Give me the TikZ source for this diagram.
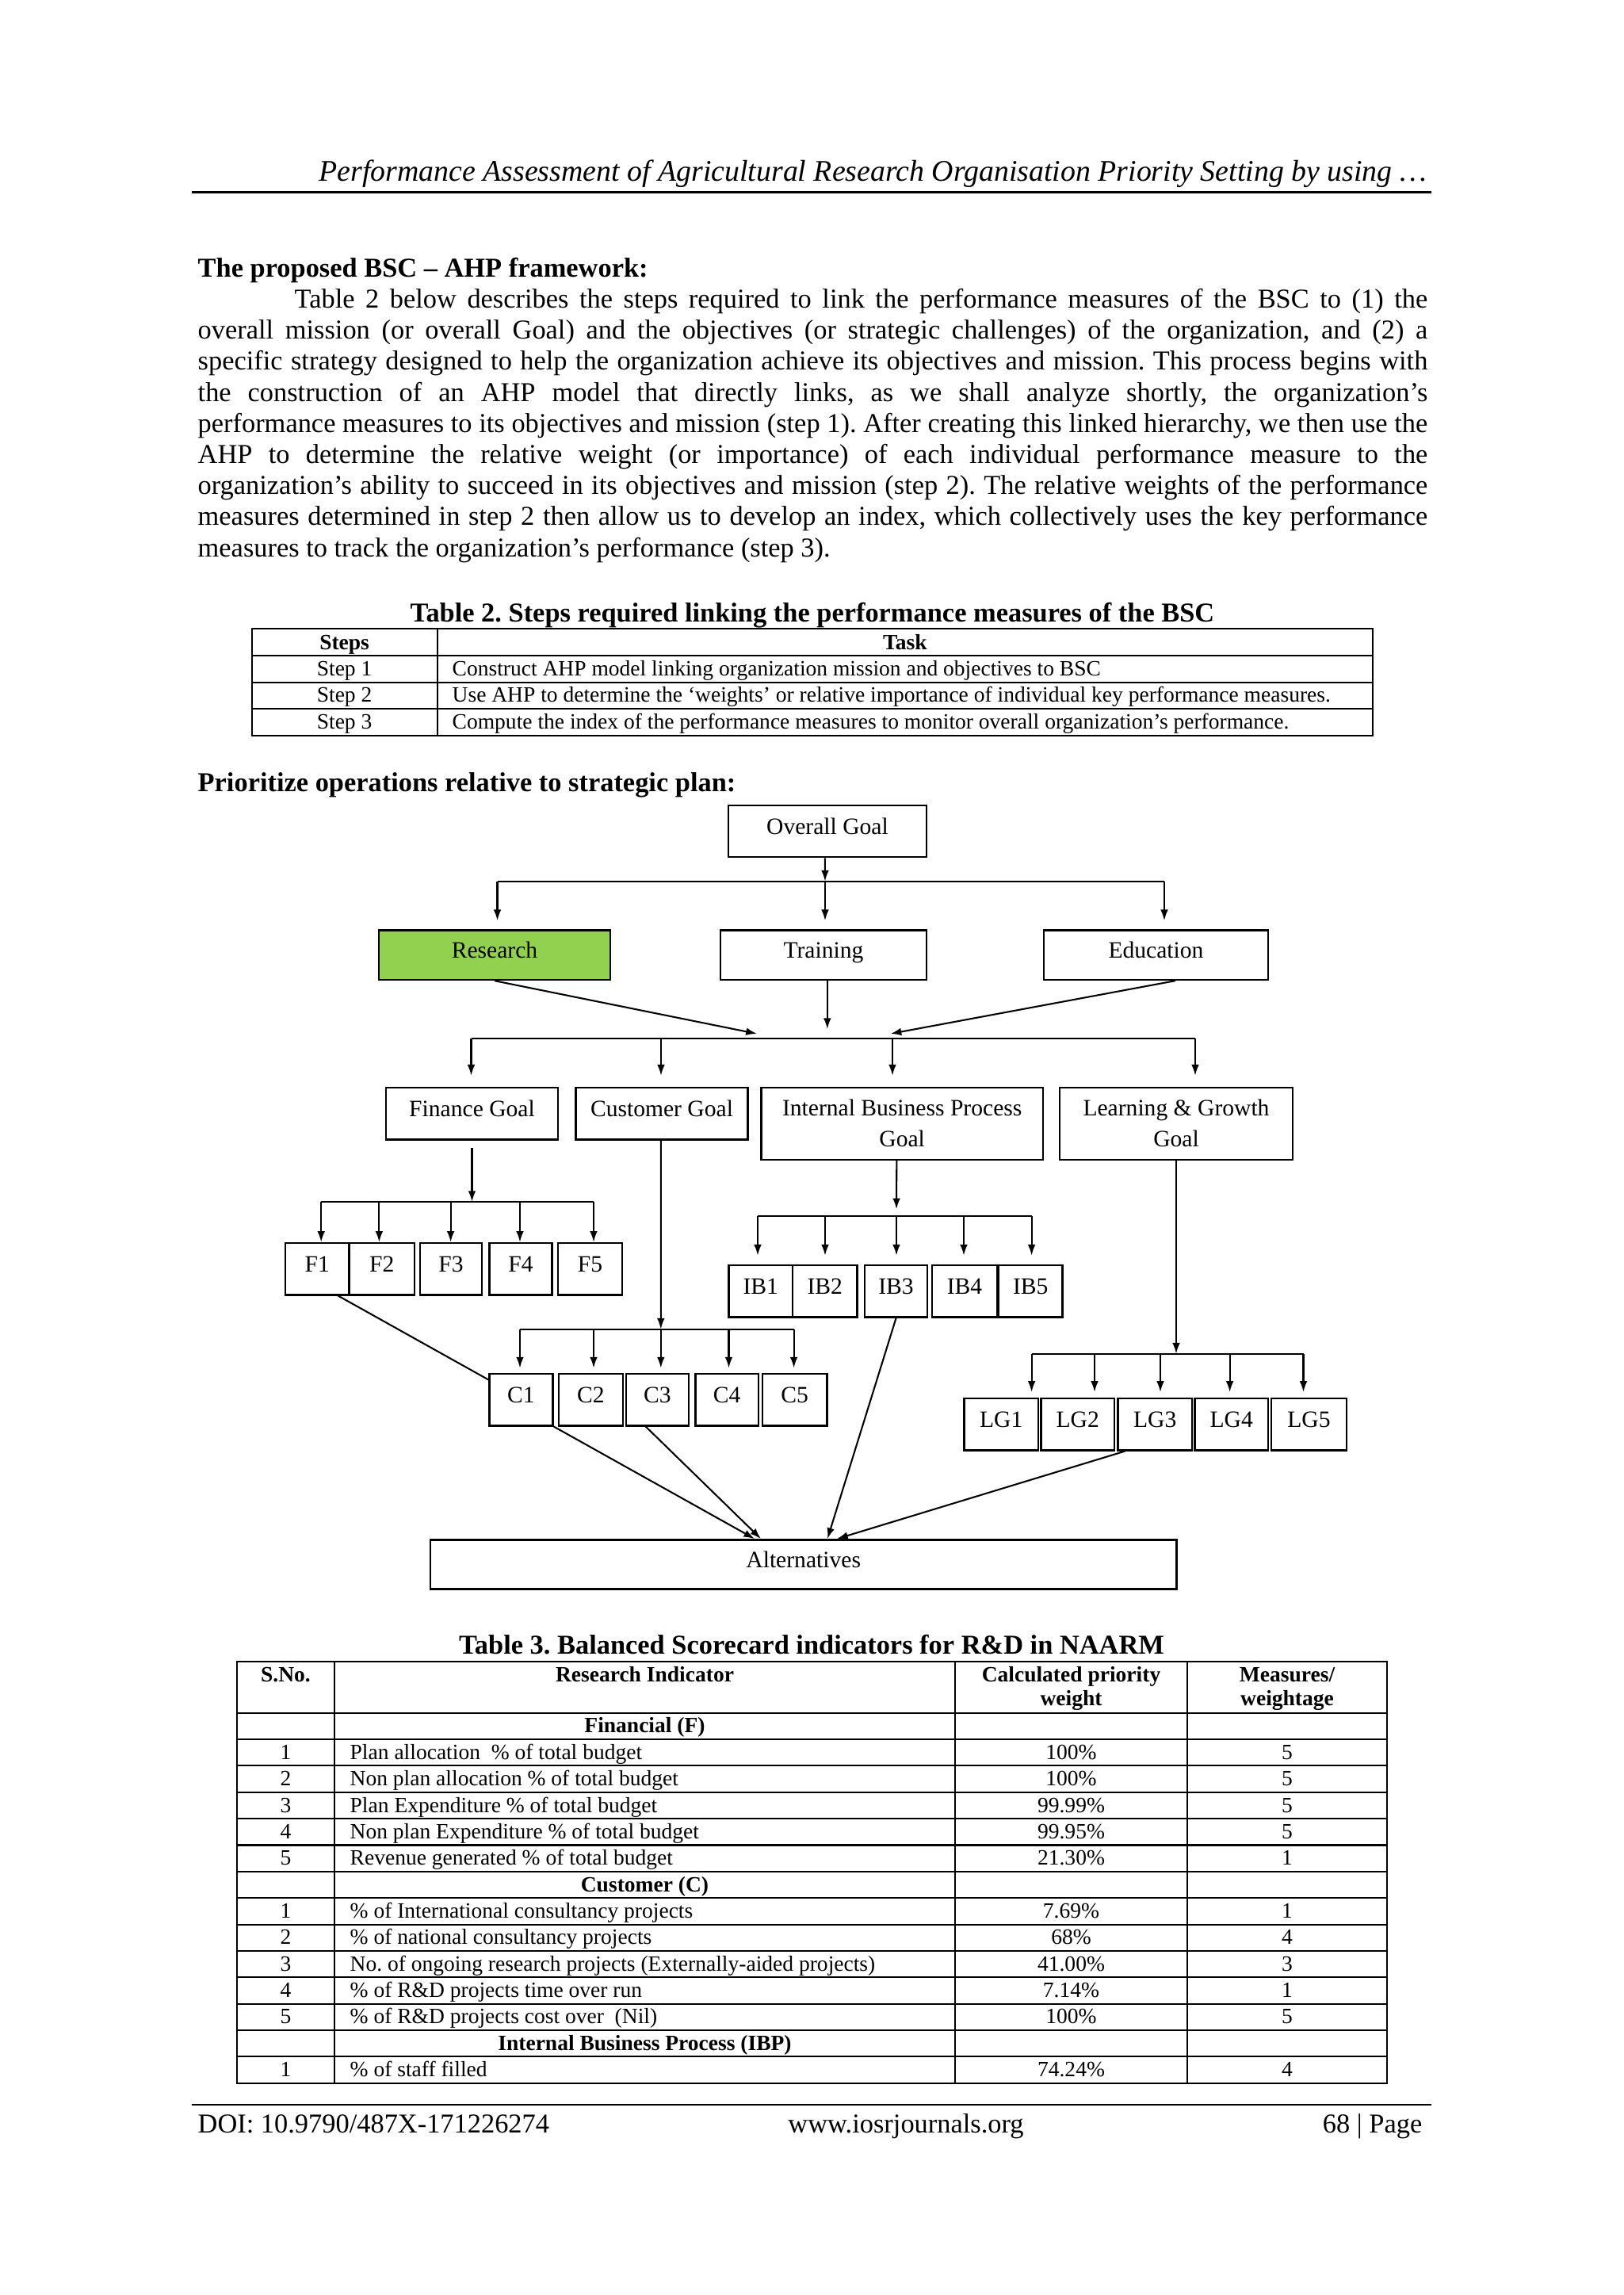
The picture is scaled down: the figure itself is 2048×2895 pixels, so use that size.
\documentclass[tikz,border=0pt]{standalone}
\usepackage{fontspec}
\setmainfont{Liberation Serif}
\usetikzlibrary{arrows.meta}
\definecolor{resgreen}{RGB}{146,208,80}
\newcommand\bodyfont{\fontsize{10pt}{11.5pt}\selectfont}
\newcommand\tabfont{\fontsize{8pt}{9pt}\selectfont}
\newcommand\dgfont{\fontsize{8.6pt}{11.3pt}\selectfont}
\newcommand\hdfont{\fontsize{11pt}{13pt}\selectfont\itshape}
\newcommand\jl[1]{\makebox[451pt][s]{#1}}
\frenchspacing
\begin{document}
\frenchspacing
\begin{tikzpicture}[x=0.29066pt, y=-0.29066pt,
  wh/.style 2 args={minimum width=#1*0.29066pt, minimum height=#2*0.29066pt},
  box/.style={draw, line width=0.7pt, inner sep=0pt, font=\dgfont, text height=5.8pt, text depth=3.4pt},
  box2/.style={draw, line width=0.7pt, inner sep=0pt, font=\dgfont, align=center},
  ln/.style={line width=0.6pt},
  arr/.style={ln, -{Latex[length=4pt,width=2.8pt]}},
  tl/.style={line width=0.6pt},
  bt/.style={font=\bodyfont, inner sep=0pt, anchor=base west},
  tx/.style={font=\tabfont, inner sep=0pt},
  txb/.style={font=\tabfont\bfseries, inner sep=0pt}]
\useasboundingbox (0,0) rectangle (2048,2895);
\fill[white] (0,0) rectangle (2048,2895);

% running header
\node[font=\hdfont, inner sep=0pt, anchor=base east] (hdr) at (1800.5,228) {Performance Assessment of Agricultural Research Organisation Priority Setting by using …};
\draw[line width=1pt] (242,242.7) -- (1806,242.7);

% section text
\node[bt, font=\bodyfont\bfseries] (h1) at (249,349) {The proposed BSC – AHP framework:};
\node[bt] (p1) at (371,388.5) {\makebox[415.5pt][s]{Table 2 below describes the steps required to link the performance measures of the BSC to (1) the}};
\node[bt] (p2) at (249,427.7) {\jl{overall mission (or overall Goal) and the objectives (or strategic challenges) of the organization, and (2) a}};
\node[bt] (p3) at (249,466.9) {\jl{specific strategy designed to help the organization achieve its objectives and mission. This process begins with}};
\node[bt] (p4) at (249,506.1) {\jl{the construction of an AHP model that directly links, as we shall analyze shortly, the organization’s}};
\node[bt] (p5) at (249,545.3) {\jl{performance measures to its objectives and mission (step 1). After creating this linked hierarchy, we then use the}};
\node[bt] (p6) at (249,584.5) {\jl{AHP to determine the relative weight (or importance) of each individual performance measure to the}};
\node[bt] (p7) at (249,623.7) {\jl{organization’s ability to succeed in its objectives and mission (step 2). The relative weights of the performance}};
\node[bt] (p8) at (249,662.9) {\jl{measures determined in step 2 then allow us to develop an index, which collectively uses the key performance}};
\node[bt] (p9) at (249,702.1) {measures to track the organization’s performance (step 3).};

% Table 2
\node[font=\bodyfont\bfseries, inner sep=0pt, anchor=base] (cap2) at (1025,784) {Table 2. Steps required linking the performance measures of the BSC};
\draw[tl] (317.6,793) rectangle (1732,928);
\foreach \y in {827,861,894} \draw[tl] (317.6,\y) -- (1732,\y);
\draw[tl] (551.6,793) -- (551.6,928);
\node[txb, anchor=base] (t2h1) at (434.6,819) {Steps};
\node[txb, anchor=base] (t2h2) at (1141.8,819) {Task};
\foreach \i/\y/\t in {1/852/{Construct AHP model linking organization mission and objectives to BSC},
  2/885.5/{Use AHP to determine the ‘weights’ or relative importance of individual key performance measures.},
  3/919/{Compute the index of the performance measures to monitor overall organization’s performance.}}{
  \node[tx, anchor=base] (t2s\i) at (434.6,\y) {Step \i};
  \node[tx, anchor=base west] (t2t\i) at (570,\y) {\t};
}

\node[bt, font=\bodyfont\bfseries] (h2) at (249,998) {Prioritize operations relative to strategic plan:};

% ---------------- diagram ----------------
\node[box, wh={250}{65.3}] (og) at (1044,1048.4) {Overall Goal};
\node[box, fill=resgreen, wh={292}{62.5}] (res) at (624,1204.7) {Research};
\node[box, wh={260}{62.5}] (tr) at (1039,1204.7) {Training};
\node[box, wh={283}{62.5}] (ed) at (1458.5,1204.7) {Education};

\coordinate (t1) at (627.5,1111.7);
\coordinate (t2) at (1041,1111.7);
\coordinate (t3) at (1469,1111.7);
\draw[ln] (t1) -- (t3);
\draw[arr] ([xshift=-0.9pt]og.south) -- (t2);
\draw[arr, shorten >=3.2pt] (t1) -- (t1 |- res.north);
\draw[arr, shorten >=3.2pt] (t2) -- (t2 |- tr.north);
\draw[arr, shorten >=3.2pt] (t3) -- (t3 |- ed.north);

\coordinate (k1) at (955,1304);
\coordinate (k3) at (1123.5,1304);
\draw[arr] (res.south) -- (k1);
\draw[arr, shorten >=1.7pt] ([xshift=1.4pt]tr.south) -- ([xshift=1.4pt]tr.south |- k1);
\draw[arr] ([xshift=7.1pt]ed.south) -- (k3);

\coordinate (m1) at (594.5,1310);
\coordinate (m2) at (834,1310);
\coordinate (m3) at (1126,1310);
\coordinate (m4) at (1508,1310);
\draw[ln] (m1) -- (m4);

\node[box, wh={216.5}{65.6}] (fg) at (595.5,1404.5) {Finance Goal};
\node[box, wh={217}{65.6}] (cg) at (835,1404.5) {Customer Goal};
\node[box2, wh={355.5}{91}] (ig) at (1138.2,1417.2) {Internal Business Process\\Goal};
\node[box2, wh={294}{91}] (lg) at (1484,1417.2) {Learning \& Growth\\Goal};

\draw[arr, shorten >=4pt] (m1) -- (m1 |- fg.north);
\draw[arr, shorten >=4pt] (m2) -- (m2 |- cg.north);
\draw[arr, shorten >=4pt] (m3) -- (m3 |- ig.north);
\draw[arr, shorten >=4pt] (m4) -- (m4 |- lg.north);

% F level
\foreach \i/\x/\w in {1/400.2/80.5, 2/481.7/82.5, 3/569/78, 4/657/79, 5/744.5/81}
  \node[box, wh={\w}{65.3}] (F\i) at (\x,1600.7) {F\i};
\foreach \i/\x in {1/405.2, 2/478.4, 3/568.6, 4/656, 5/749}
  \coordinate (f\i) at (\x,1516);
\draw[ln] (f1) -- (f5);
\draw[arr, shorten <=2.7pt] (fg.south) -- (fg.south |- f1);
\foreach \i in {1,...,5} \draw[arr] (f\i) -- (f\i |- F\i.north);

% C level
\foreach \i/\x/\w in {1/657.5/80, 2/745.5/81, 3/829.5/79, 4/917.2/79.5, 5/1002.7/81.5}
  \node[box, wh={\w}{65.6}] (C\i) at (\x,1765.5) {C\i};
\foreach \i/\x in {1/656, 2/749, 3/833.8, 4/919.5, 5/1001.6}
  \coordinate (c\i) at (\x,1676.7);
\draw[ln] (c1) -- (c5);
\draw[arr] ([xshift=-0.35pt]cg.south) -- (c3);
\foreach \i in {1,...,5} \draw[arr, shorten >=1.7pt] (c\i) -- (c\i |- C\i.north);

% IB level
\foreach \i/\x/\w in {1/959.8/80.4, 2/1040.7/81.5, 3/1130.5/79, 4/1217/82, 5/1300.2/80.5}
  \node[box, wh={\w}{65.7}] (IB\i) at (\x,1628.8) {IB\i};
\foreach \i/\x in {1/956, 2/1041, 3/1131, 4/1216, 5/1301.6}
  \coordinate (i\i) at (\x,1534.3);
\draw[ln] (i1) -- (i5);
\draw[arr, shorten >=2.6pt] ([xshift=-2pt]ig.south) -- (i3);
\foreach \i in {1,...,5} \draw[arr, shorten >=3.2pt] (i\i) -- (i\i |- IB\i.north);

% LG level
\foreach \i/\x/\w in {1/1263.2/93.5, 2/1359.7/92.5, 3/1457.2/93.5, 4/1553.7/92.5, 5/1651.5/95}
  \node[box, wh={\w}{65.3}] (LG\i) at (\x,1796.7) {LG\i};
\foreach \i/\x in {1/1301.6, 2/1381, 3/1464, 4/1551.6, 5/1644.5}
  \coordinate (l\i) at (\x,1707.7);
\draw[ln] (l1) -- (l5);
\draw[arr] (lg.south) -- (lg.south |- l3);
\foreach \i in {1,...,5} \draw[arr, shorten >=2pt] (l\i) -- (l\i |- LG\i.north);

% Alternatives
\node[box, wh={941.5}{62}] (alt) at (1013.7,1973.3) {Alternatives};
\coordinate (a1) at ([xshift=-17.9pt]alt.north);
\coordinate (a2) at ([xshift=-15.6pt]alt.north);
\coordinate (a3) at ([xshift=8.8pt]alt.north);
\coordinate (a4) at ([xshift=12.3pt]alt.north);
\draw[ln] ([xshift=7.7pt]F1.south) -- ([yshift=-2.6pt]C1.north west);
\draw[arr] (C1.south east) -- (a1);
\draw[arr] ([xshift=-4.3pt]C3.south) -- (a2);
\draw[arr] (IB3.south) -- (a3);
\draw[arr] ([xshift=-11pt]LG3.south) -- (a4);

% ---------------- Table 3 ----------------
\node[font=\bodyfont\bfseries, inner sep=0pt, anchor=base] (cap3) at (1024,2086.7) {Table 3. Balanced Scorecard indicators for R\&D in NAARM};
\draw[tl] (299,2096) rectangle (1750,2627.7);
\foreach \k in {0,...,13} \draw[tl] (299,{2160.7+33.36*\k}) -- (1750,{2160.7+33.36*\k});
\foreach \x in {422,1205,1498} \draw[tl] (\x,2096) -- (\x,2627.7);
\node[txb, anchor=base] (hd1) at (360.5,2121.5) {S.No.};
\node[txb, anchor=base] (hd2) at (813.5,2121.5) {Research Indicator};
\node[txb, anchor=base] (hd3a) at (1351.5,2121.5) {Calculated priority};
\node[txb, anchor=base] (hd3b) at (1351.5,2151.5) {weight};
\node[txb, anchor=base] (hd4a) at (1624,2121.5) {Measures/};
\node[txb, anchor=base] (hd4b) at (1624,2151.5) {weightage};
\foreach \k/\t in {0/{Financial (F)}, 6/{Customer (C)}, 12/{Internal Business Process (IBP)}}
  \node[txb, anchor=base] (cat\k) at (813.5,{2185.9+33.36*\k}) {\t};
\foreach \k/\n/\t/\v/\w in {
  1/1/{Plan allocation \ \% of total budget}/{100\%}/5,
  2/2/{Non plan allocation \% of total budget}/{100\%}/5,
  3/3/{Plan Expenditure \% of total budget}/{99.99\%}/5,
  4/4/{Non plan Expenditure \% of total budget}/{99.95\%}/5,
  5/5/{Revenue generated \% of total budget}/{21.30\%}/1,
  7/1/{\% of International consultancy projects}/{7.69\%}/1,
  8/2/{\% of national consultancy projects}/{68\%}/4,
  9/3/{No. of ongoing research projects (Externally-aided projects)}/{41.00\%}/3,
  10/4/{\% of R\&D projects time over run}/{7.14\%}/1,
  11/5/{\% of R\&D projects cost over \ (Nil)}/{100\%}/5,
  13/1/{\% of staff filled}/{74.24\%}/4}{
  \node[tx, anchor=base] (rn\k) at (360.5,{2185.9+33.36*\k}) {\n};
  \node[tx, anchor=base west] (rt\k) at (441,{2185.9+33.36*\k}) {\t};
  \node[tx, anchor=base] (rv\k) at (1351.5,{2185.9+33.36*\k}) {\v};
  \node[tx, anchor=base] (rw\k) at (1624,{2185.9+33.36*\k}) {\w};
}

% footer
\draw[line width=0.8pt] (242,2655) -- (1806,2655);
\node[bt] (ft1) at (249,2690) {DOI: 10.9790/487X-171226274};
\node[font=\bodyfont, inner sep=0pt, anchor=base] (ft2) at (1143,2690) {www.iosrjournals.org};
\node[font=\bodyfont, inner sep=0pt, anchor=base east] (ft3) at (1795,2690) {68 | Page};
\end{tikzpicture}
\end{document}
